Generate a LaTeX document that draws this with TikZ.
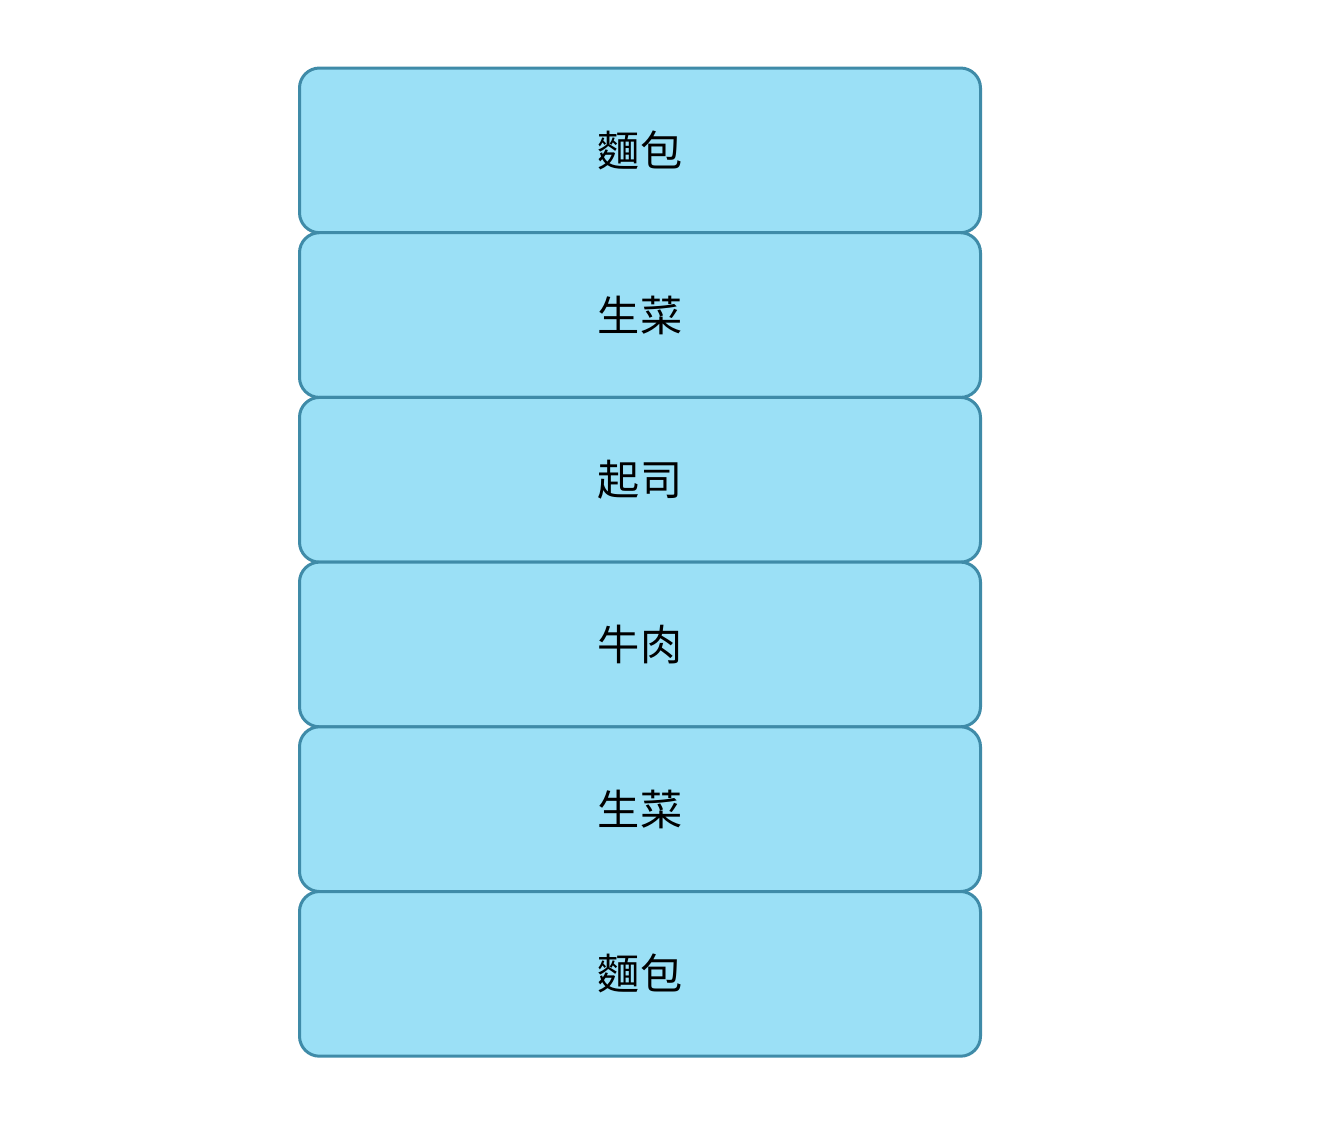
\documentclass[tikz,border=0pt]{standalone}
\usepackage{fontspec}
\newfontfamily\cjk{Noto Sans CJK TC}
\usepackage[HTML]{xcolor}
\usetikzlibrary{positioning}
\definecolor{layerfill}{HTML}{9BE0F6}
\definecolor{layerline}{HTML}{3F8BA8}

\begin{document}
\begin{tikzpicture}[layer/.style={draw=layerline,fill=layerfill,line width=0.06cm,rounded corners=0.4cm,minimum width=13.62cm,minimum height=3.294cm,outer sep=0pt,inner sep=0pt,font=\cjk\fontsize{24}{28}\selectfont}]
\useasboundingbox (0,0) rectangle (26.4,-22.56);
\node[layer] (bun1) at (12.8,-3.007) {麵包};
\node[layer,below=0pt of bun1] (lettuce1) {生菜};
\node[layer,below=0pt of lettuce1] (cheese) {起司};
\node[layer,below=0pt of cheese] (beef) {牛肉};
\node[layer,below=0pt of beef] (lettuce2) {生菜};
\node[layer,below=0pt of lettuce2] (bun2) {麵包};
\end{tikzpicture}
\end{document}
